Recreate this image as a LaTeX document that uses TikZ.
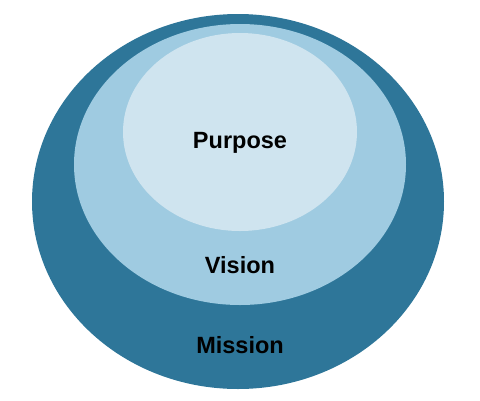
\documentclass[tikz,border=0pt]{standalone}
\usepackage{fontspec}
\setmainfont{Liberation Sans}
\usepackage{xcolor}
\usetikzlibrary{positioning,shapes.geometric}
\definecolor{missionblue}{HTML}{2E7699}
\definecolor{visionblue}{HTML}{9FCBE1}
\definecolor{purposeblue}{HTML}{CFE4EF}

\begin{document}
\begin{tikzpicture}[
    x=1pt, y=-1pt,
    ring/.style={ellipse, draw=none, inner sep=0pt},
    label/.style={font=\fontsize{23.5}{28}\selectfont\bfseries, text=black, inner sep=0pt, anchor=base},
  ]
  \useasboundingbox (0,0) rectangle (480,400);

  % Mission
  \node[ring, fill=missionblue, minimum width=412pt, minimum height=375pt] (mission) at (238,201.5) {};
  % Vision
  \node[ring, fill=visionblue, minimum width=332pt, minimum height=281pt] (vision) at (240,164.5) {};
  % Purpose
  \node[ring, fill=purposeblue, minimum width=234pt, minimum height=198pt] (purpose) at (240,132) {};

  % Labels
  \node[label] (purposetext) at (240,148) {Purpose};
  \node[label] (visiontext) at (240,273) {Vision};
  \node[label] (missiontext) at (240,353) {Mission};
\end{tikzpicture}
\end{document}
